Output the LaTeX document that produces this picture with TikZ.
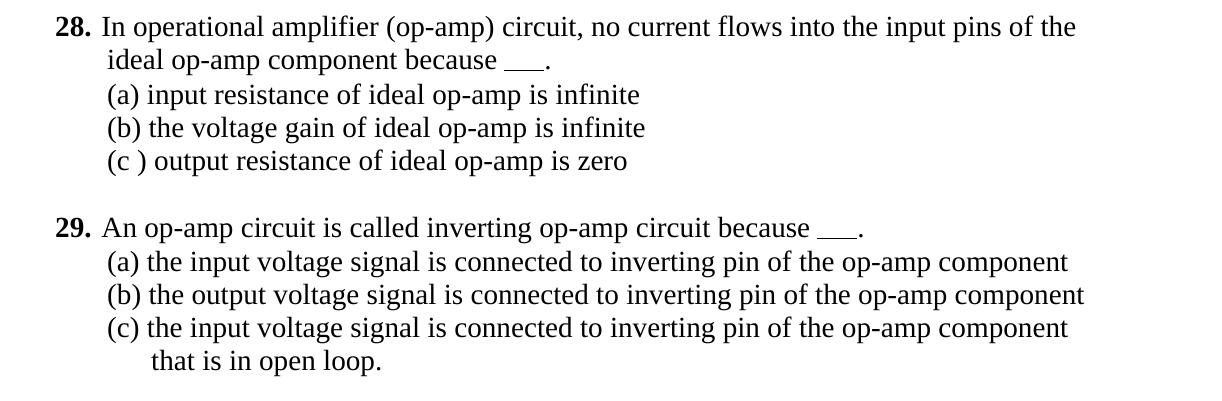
\documentclass[tikz,border=0pt]{standalone}
\usepackage{fontspec}
\setmainfont{Liberation Serif}
\begin{document}
\begin{tikzpicture}[x=1pt,y=-1pt,
  ln/.style={anchor=base west,inner sep=0pt,font=\fontsize{29.2}{34}\selectfont}]
\useasboundingbox (0,0) rectangle (1222,400);
\newcommand{\blank}{\rule[-2pt]{40pt}{1.2pt}}
\node[ln] (a1) at (55,36) {\textbf{28.} In operational amplifier (op-amp) circuit, no current flows into the input pins of the};
\node[ln] (a2) at (107,69) {ideal op-amp component because \blank.};
\node[ln] (a3) at (107,104) {(a) input resistance of ideal op-amp is infinite};
\node[ln] (a4) at (107,137) {(b) the voltage gain of ideal op-amp is infinite};
\node[ln] (a5) at (107,170) {(c ) output resistance of ideal op-amp is zero};
\node[ln] (b1) at (55,237) {\textbf{29.} An op-amp circuit is called inverting op-amp circuit because \blank.};
\node[ln] (b2) at (107,271) {(a) the input voltage signal is connected to inverting pin of the op-amp component};
\node[ln] (b3) at (107,304) {(b) the output voltage signal is connected to inverting pin of the op-amp component};
\node[ln] (b4) at (107,337) {(c) the input voltage signal is connected to inverting pin of the op-amp component};
\node[ln] (b5) at (151,370) {that is in open loop.};
\end{tikzpicture}
\end{document}
